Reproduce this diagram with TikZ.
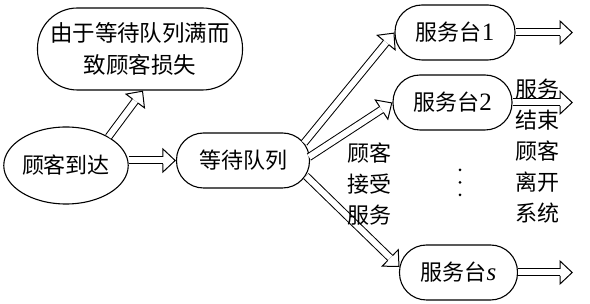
\documentclass[tikz,border=0pt]{standalone}
\usepackage{fontspec}
\setmainfont{Liberation Serif}
\newfontfamily\cjk{Noto Sans CJK SC}
\usetikzlibrary{arrows.meta,shapes.geometric,calc}
\pgfdeclarearrow{
  name=Fat,
  setup code={
    \pgfarrowssettipend{0pt}
    \pgfarrowssetlineend{-13pt}
    \pgfarrowssetbackend{-13pt}
    \pgfarrowssetvisualbackend{-13pt}
  },
  drawing code={
    \pgfsetlinewidth{1pt}
    \pgfsetinnerlinewidth{0pt}
    \pgfsetdash{}{0pt}
    \pgfsetmiterjoin
    \pgfsetbuttcap
    \pgfpathmoveto{\pgfqpoint{-13pt}{3.5pt}}
    \pgfpathlineto{\pgfqpoint{-13pt}{11.5pt}}
    \pgfpathlineto{\pgfqpoint{-0.8pt}{0pt}}
    \pgfpathlineto{\pgfqpoint{-13pt}{-11.5pt}}
    \pgfpathlineto{\pgfqpoint{-13pt}{-3.5pt}}
    \pgfusepathqstroke
  }
}
\newcommand\lat[1]{{\rmfamily\fontsize{25}{31}\selectfont #1}}
\begin{document}
\begin{tikzpicture}[x=1pt,y=-1pt,
  cjkfont/.style={font=\cjk\fontsize{22}{31}\selectfont},
  stad/.style={draw,line width=1.1pt,rounded corners=27pt,minimum height=55pt,inner sep=0pt,cjkfont},
  fatarrow/.style={double,double distance=6pt,line width=1pt,-{Fat}},
  sidetext/.style={cjkfont,align=center,inner sep=0pt}]
\useasboundingbox (0,0) rectangle (590,304);
% nodes
\node[stad,rounded corners=40pt,minimum width=205pt,minimum height=82pt,align=center,font=\cjk\fontsize{22.5}{32}\selectfont]
  (loss) at (140,49) {由于等待队列满而\\致顾客损失};
\node[draw,ellipse,line width=1.1pt,minimum width=116pt,minimum height=77pt,inner sep=0pt,cjkfont]
  (arr) at (66,165.5) {顾客到达};
\node[stad,minimum width=133pt] (queue) at (243,160.5) {等待队列};
\node[stad,minimum width=120pt] (s1) at (455,32.5) {服务台\lat{1}};
\node[stad,minimum width=119pt] (s2) at (452.5,102.5) {服务台\lat{2}};
\node[stad,minimum width=118pt] (ss) at (458.5,272.5) {服务台\lat{\itshape s}};
% free ends
\coordinate (qa) at ($(queue.east)+(-6,-17.5)$);
\coordinate (qb) at ($(queue.east)+(-1,-3.5)$);
\coordinate (qc) at ($(queue.east)+(-4,15.5)$);
\coordinate (o1) at (573,32.5);
\coordinate (o2) at (573,102.5);
\coordinate (os) at (573,272.5);
% connectors
\draw[fatarrow] (arr.34) -- ($(loss.south)+(3,0)$);
\draw[fatarrow] (arr.east |- queue.west) -- (queue.west);
\draw[fatarrow] (qa) -- (s1.west);
\draw[fatarrow] (qb) -- (s2.west);
\draw[fatarrow] (qc) -- ($(ss.west)+(0.6,-5.5)$);
\draw[fatarrow] (s1.east) -- (o1);
\draw[fatarrow] (s2.east) -- (o2);
\draw[fatarrow] (ss.east) -- (os);
% texts
\node[sidetext] (recv) at (369.5,184) {顾客\\接受\\服务};
\node[sidetext] (leave) at (537.5,151) {服务\\结束\\顾客\\离开\\系统};
% vertical dots
\foreach \yy [count=\i] in {170,182.5,195}
  \fill (460,\yy) circle[radius=1.5pt] coordinate (dot\i);
\end{tikzpicture}
\end{document}
